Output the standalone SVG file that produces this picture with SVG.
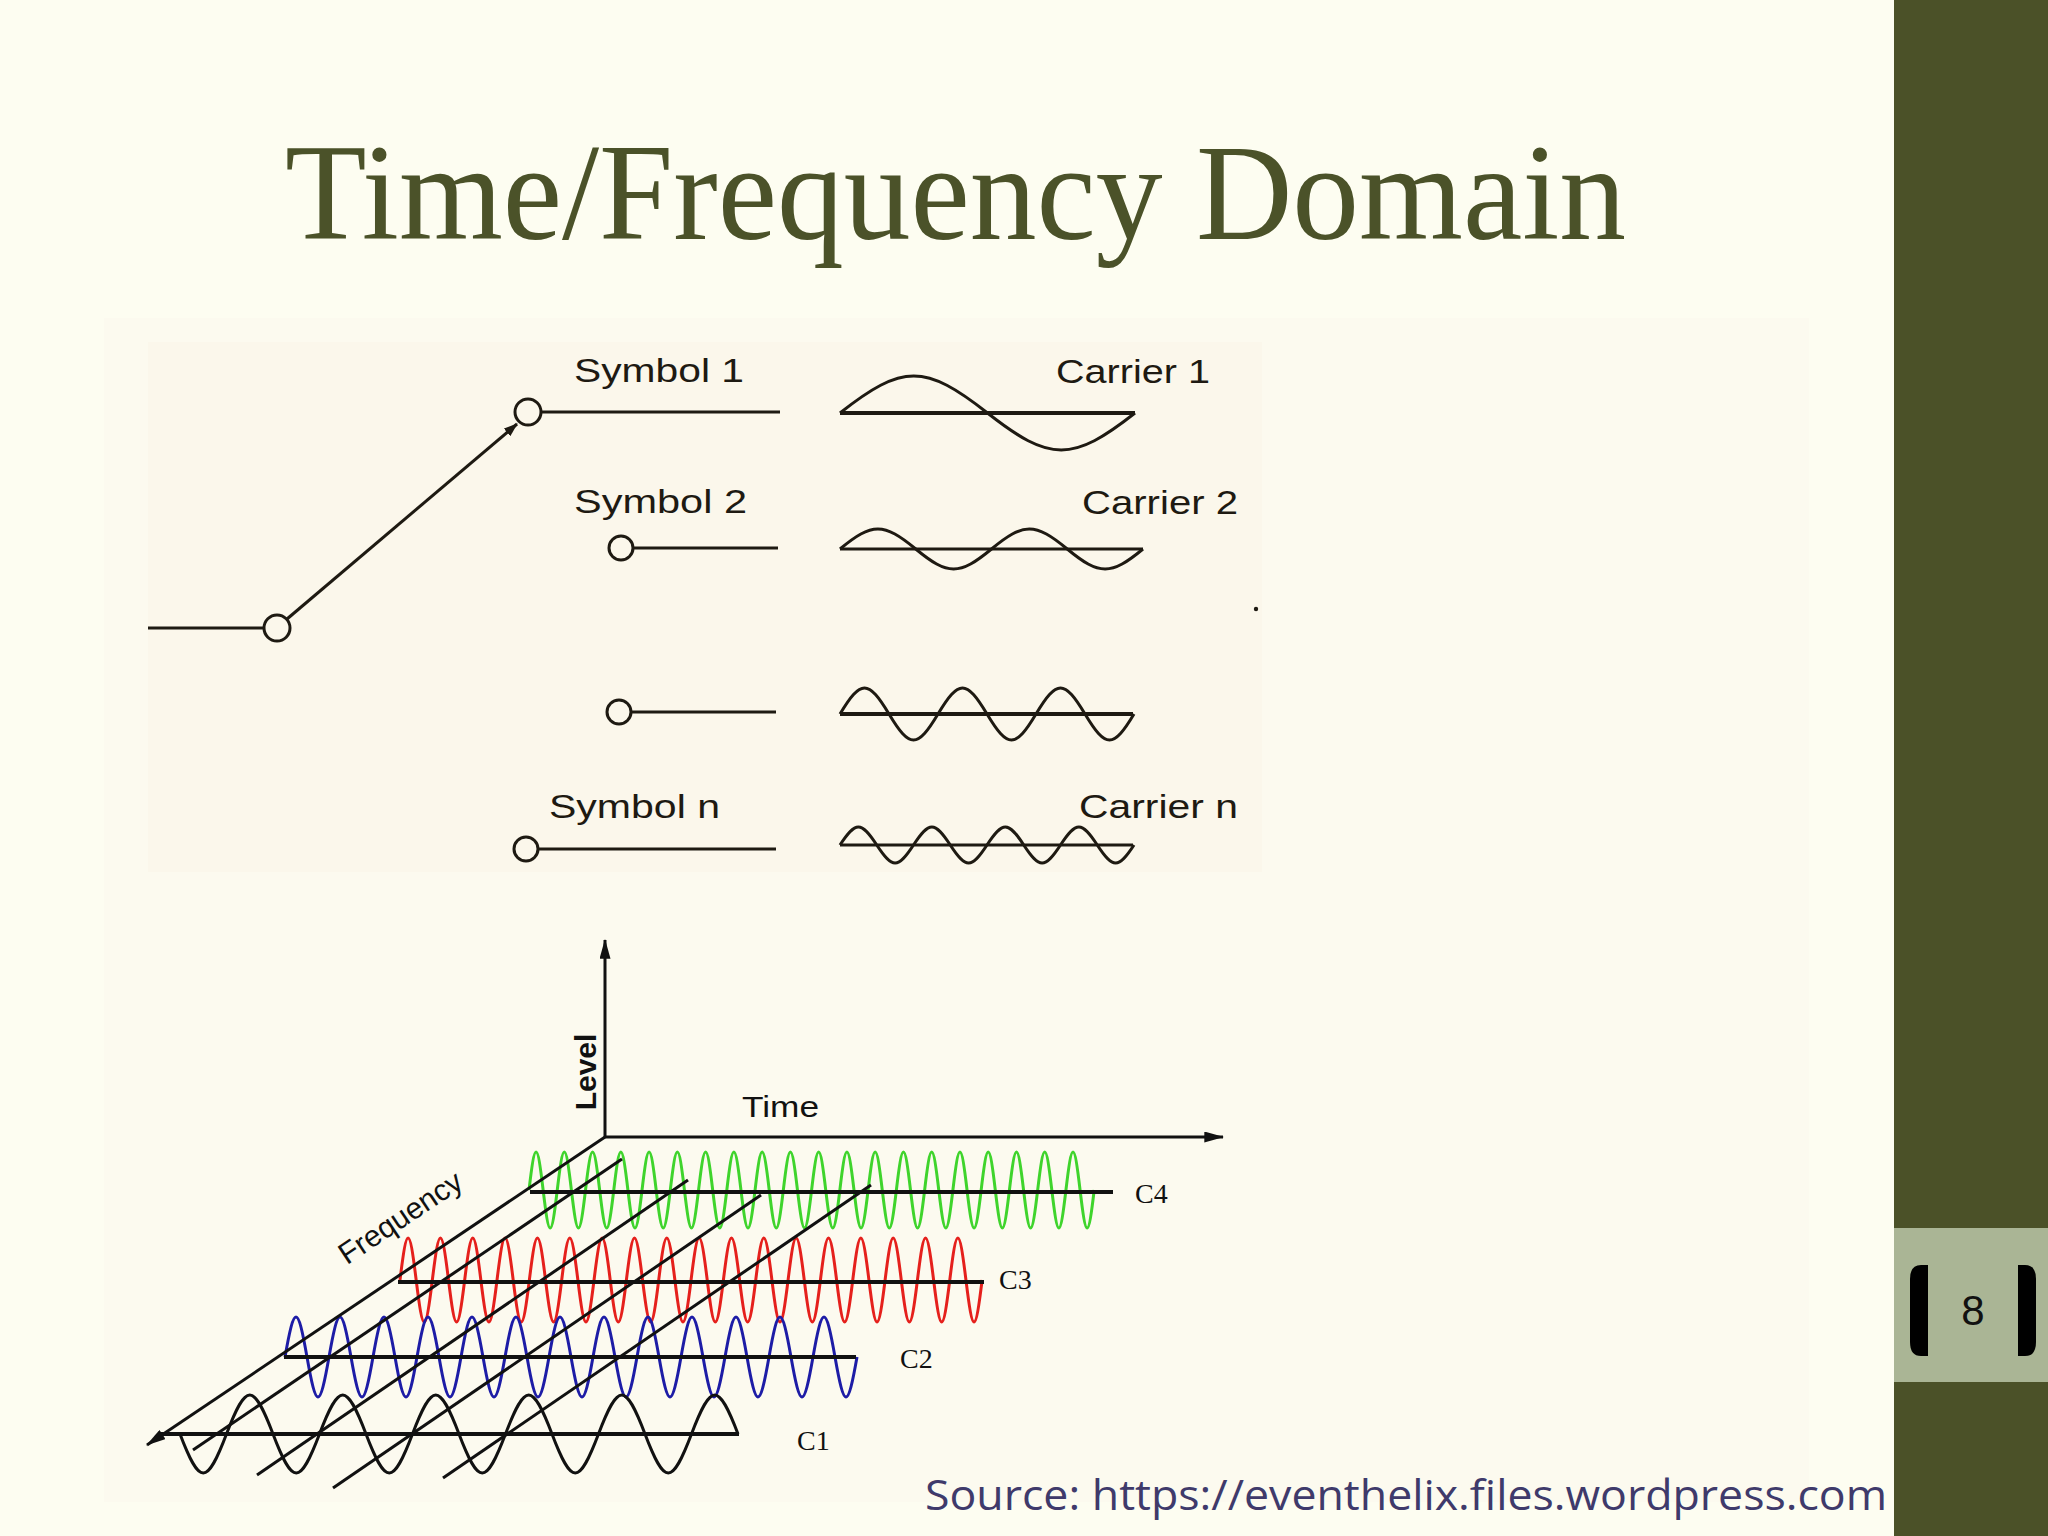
<svg xmlns="http://www.w3.org/2000/svg" width="2048" height="1536" viewBox="0 0 2048 1536">
<style>
.ink{stroke:#1e1a12;stroke-width:3;fill:none}
.node{stroke:#1e1a12;stroke-width:3;fill:#fbf7eb}
.lbl{font-family:"Liberation Sans",Arial,sans-serif;font-size:33px;fill:#1e1a12}
.ax{stroke:#111;stroke-width:3;fill:none}
.base{stroke:#111;stroke-width:4;fill:none}
.cl{font-family:"Liberation Serif","Times New Roman",serif;font-size:28px;fill:#111}
.alb{font-family:"Liberation Sans",Arial,sans-serif;font-size:30px;fill:#111}
</style>
<defs>
<marker id="ah" viewBox="0 0 18 10" refX="17" refY="5" markerWidth="20" markerHeight="11" markerUnits="userSpaceOnUse" orient="auto"><path d="M0,0 L18,5 L0,10 z" fill="#111"/></marker>
<marker id="ahs" viewBox="0 0 14 10" refX="13" refY="5" markerWidth="14" markerHeight="10" markerUnits="userSpaceOnUse" orient="auto"><path d="M0,0 L14,5 L0,10 z" fill="#1e1a12"/></marker>
</defs>
<rect width="2048" height="1536" fill="#fdfdf1"/>
<rect x="104" y="318" width="1705" height="1184" fill="#fcfaef"/>
<rect x="148" y="342" width="1114" height="530" fill="#fbf7eb"/>
<rect x="1894" y="0" width="154" height="1536" fill="#4b5128"/>
<g id="pagenum">
<rect x="1894" y="1228" width="154" height="154" fill="#aab595"/>
<path d="M1928,1265 L1921,1265 Q1910,1265 1910,1279 L1910,1342 Q1910,1356 1921,1356 L1928,1356 z" fill="#000"/>
<path d="M2018,1265 L2025,1265 Q2036,1265 2036,1279 L2036,1342 Q2036,1356 2025,1356 L2018,1356 z" fill="#000"/>
<text x="1973" y="1325" text-anchor="middle" font-family="Liberation Sans,Arial,sans-serif" font-size="42" fill="#111">8</text>
</g>
<g id="title">
<text x="285" y="239" font-family="Liberation Serif,'Times New Roman',serif" font-size="138" fill="#4b5229" textLength="1341" lengthAdjust="spacingAndGlyphs">Time/Frequency Domain</text>
</g>

<g id="switch-diagram">
<g id="connectors-top">
<line class="ink" x1="148" y1="628" x2="263" y2="628"/>
<line class="ink" x1="287" y1="619" x2="517" y2="424" marker-end="url(#ahs)"/>
<line class="ink" x1="541" y1="412" x2="780" y2="412"/>
<line class="ink" x1="633" y1="548" x2="778" y2="548"/>
<line class="ink" x1="631" y1="712" x2="776" y2="712"/>
<line class="ink" x1="538" y1="849" x2="776" y2="849"/>
</g>
<g id="input-node"><circle class="node" cx="277" cy="628" r="13"/></g>
<g id="symbol1"><circle class="node" cx="528" cy="412" r="13"/><text class="lbl" x="574" y="382" textLength="170" lengthAdjust="spacingAndGlyphs">Symbol 1</text></g>
<g id="symbol2"><circle class="node" cx="621" cy="548" r="12"/><text class="lbl" x="574" y="513" textLength="173" lengthAdjust="spacingAndGlyphs">Symbol 2</text></g>
<g id="symbol3"><circle class="node" cx="619" cy="712" r="12"/></g>
<g id="symboln"><circle class="node" cx="526" cy="849" r="12"/><text class="lbl" x="549" y="818" textLength="171" lengthAdjust="spacingAndGlyphs">Symbol n</text></g>
<g id="carrier1">
<line class="ink" x1="840" y1="413" x2="1135" y2="413" style="stroke-width:4"/>
<path class="ink" d="M840,413 c62.6,-49.3 84.9,-49.3 147.5,0 s84.9,49.3 147.5,0"/>
<text class="lbl" x="1056" y="383" textLength="154" lengthAdjust="spacingAndGlyphs">Carrier 1</text>
</g>
<g id="carrier2">
<line class="ink" x1="840" y1="549" x2="1143" y2="549"/>
<path class="ink" d="M840,549 c32.1,-26.7 43.6,-26.7 75.75,0 s43.6,26.7 75.75,0 s43.6,-26.7 75.75,0 s43.6,26.7 75.75,0"/>
<text class="lbl" x="1082" y="514" textLength="156" lengthAdjust="spacingAndGlyphs">Carrier 2</text>
</g>
<g id="carrier3">
<line class="ink" x1="840" y1="714" x2="1133" y2="714" style="stroke-width:4"/>
<path class="ink" d="M840,714 c20.8,-34.7 28.2,-34.7 49,0 s28.2,34.7 49,0 s28.2,-34.7 49,0 s28.2,34.7 49,0 s28.2,-34.7 49,0 s28.2,34.7 49,0"/>
</g>
<g id="carriern">
<line class="ink" x1="840" y1="845" x2="1133" y2="845"/>
<path class="ink" d="M840,845 c15.6,-24 21.15,-24 36.75,0 s21.15,24 36.75,0 s21.15,-24 36.75,0 s21.15,24 36.75,0 s21.15,-24 36.75,0 s21.15,24 36.75,0 s21.15,-24 36.75,0 s21.15,24 36.75,0"/>
<text class="lbl" x="1079" y="818" textLength="159" lengthAdjust="spacingAndGlyphs">Carrier n</text>
</g>
<circle cx="1256" cy="609" r="2.2" fill="#1e1a12"/>
</g>

<g id="spectrum-diagram">
<g id="waves">
<path id="c4wave" fill="none" stroke="#3fd42c" stroke-width="3" d="M529,1190 c6,-50.7 8.13,-50.7 14.13,0 s8.13,50.7 14.13,0 s8.13,-50.7 14.13,0 s8.13,50.7 14.13,0 s8.13,-50.7 14.13,0 s8.13,50.7 14.13,0 s8.13,-50.7 14.13,0 s8.13,50.7 14.13,0 s8.13,-50.7 14.13,0 s8.13,50.7 14.13,0 s8.13,-50.7 14.13,0 s8.13,50.7 14.13,0 s8.13,-50.7 14.13,0 s8.13,50.7 14.13,0 s8.13,-50.7 14.13,0 s8.13,50.7 14.13,0 s8.13,-50.7 14.13,0 s8.13,50.7 14.13,0 s8.13,-50.7 14.13,0 s8.13,50.7 14.13,0 s8.13,-50.7 14.13,0 s8.13,50.7 14.13,0 s8.13,-50.7 14.13,0 s8.13,50.7 14.13,0 s8.13,-50.7 14.13,0 s8.13,50.7 14.13,0 s8.13,-50.7 14.13,0 s8.13,50.7 14.13,0 s8.13,-50.7 14.13,0 s8.13,50.7 14.13,0 s8.13,-50.7 14.13,0 s8.13,50.7 14.13,0 s8.13,-50.7 14.13,0 s8.13,50.7 14.13,0 s8.13,-50.7 14.13,0 s8.13,50.7 14.13,0 s8.13,-50.7 14.13,0 s8.13,50.7 14.13,0 s8.13,-50.7 14.13,0 s8.13,50.7 14.13,0"/>
<path id="c3wave" fill="none" stroke="#e5201c" stroke-width="3" d="M400,1280 c6.86,-56 9.31,-56 16.17,0 s9.31,56 16.17,0 s9.31,-56 16.17,0 s9.31,56 16.17,0 s9.31,-56 16.17,0 s9.31,56 16.17,0 s9.31,-56 16.17,0 s9.31,56 16.17,0 s9.31,-56 16.17,0 s9.31,56 16.17,0 s9.31,-56 16.17,0 s9.31,56 16.17,0 s9.31,-56 16.17,0 s9.31,56 16.17,0 s9.31,-56 16.17,0 s9.31,56 16.17,0 s9.31,-56 16.17,0 s9.31,56 16.17,0 s9.31,-56 16.17,0 s9.31,56 16.17,0 s9.31,-56 16.17,0 s9.31,56 16.17,0 s9.31,-56 16.17,0 s9.31,56 16.17,0 s9.31,-56 16.17,0 s9.31,56 16.17,0 s9.31,-56 16.17,0 s9.31,56 16.17,0 s9.31,-56 16.17,0 s9.31,56 16.17,0 s9.31,-56 16.17,0 s9.31,56 16.17,0 s9.31,-56 16.17,0 s9.31,56 16.17,0 s9.31,-56 16.17,0 s9.31,56 16.17,0"/>
<path id="c2wave" fill="none" stroke="#1d1ca6" stroke-width="3" d="M285,1357 c9.34,-53.3 12.66,-53.3 22,0 s12.66,53.3 22,0 s12.66,-53.3 22,0 s12.66,53.3 22,0 s12.66,-53.3 22,0 s12.66,53.3 22,0 s12.66,-53.3 22,0 s12.66,53.3 22,0 s12.66,-53.3 22,0 s12.66,53.3 22,0 s12.66,-53.3 22,0 s12.66,53.3 22,0 s12.66,-53.3 22,0 s12.66,53.3 22,0 s12.66,-53.3 22,0 s12.66,53.3 22,0 s12.66,-53.3 22,0 s12.66,53.3 22,0 s12.66,-53.3 22,0 s12.66,53.3 22,0 s12.66,-53.3 22,0 s12.66,53.3 22,0 s12.66,-53.3 22,0 s12.66,53.3 22,0 s12.66,-53.3 22,0 s12.66,53.3 22,0"/>
<path id="c1wave" fill="none" stroke="#111" stroke-width="3" d="M180,1434 c19.7,52 26.8,52 46.5,0 s26.8,-52 46.5,0 s26.8,52 46.5,0 s26.8,-52 46.5,0 s26.8,52 46.5,0 s26.8,-52 46.5,0 s26.8,52 46.5,0 s26.8,-52 46.5,0 s26.8,52 46.5,0 s26.8,-52 46.5,0 s26.8,52 46.5,0 s26.8,-52 46.5,0"/>
</g>
<g id="connectors">
<line class="ax" x1="605" y1="1137" x2="605" y2="940" marker-end="url(#ah)"/>
<line class="ax" x1="605" y1="1137" x2="1223" y2="1137" marker-end="url(#ah)"/>
<line class="ax" x1="605" y1="1137" x2="147" y2="1445" marker-end="url(#ah)"/>
<line class="ax" x1="622" y1="1159" x2="193" y2="1450"/>
<line class="ax" x1="688" y1="1180" x2="257" y2="1475"/>
<line class="ax" x1="761" y1="1195" x2="333" y2="1488"/>
<line class="ax" x1="871" y1="1185" x2="443" y2="1478"/>
<line class="base" x1="530" y1="1192" x2="1113" y2="1192"/>
<line class="base" x1="398" y1="1282" x2="984" y2="1282"/>
<line class="base" x1="284" y1="1357" x2="856" y2="1357"/>
<line class="base" x1="159" y1="1434" x2="739" y2="1434"/>
</g>
<g id="axis-labels">
<text class="alb" x="742" y="1117" textLength="77" lengthAdjust="spacingAndGlyphs">Time</text>
<text class="alb" x="406" y="1226" text-anchor="middle" transform="rotate(-33.7 406 1226)">Frequency</text>
<text class="alb" x="596" y="1072" text-anchor="middle" font-size="27" font-weight="bold" transform="rotate(-90 596 1072)">Level</text>
</g>
<g id="c4"><text class="cl" x="1135" y="1203">C4</text></g>
<g id="c3"><text class="cl" x="999" y="1289">C3</text></g>
<g id="c2"><text class="cl" x="900" y="1368">C2</text></g>
<g id="c1"><text class="cl" x="797" y="1450">C1</text></g>
</g>
<g id="source">
<text x="925" y="1510" font-family="'Open Sans','Liberation Sans',sans-serif" font-size="42" fill="#3f3a6b" textLength="962" lengthAdjust="spacingAndGlyphs">Source: https://eventhelix.files.wordpress.com</text>
</g>
</svg>
